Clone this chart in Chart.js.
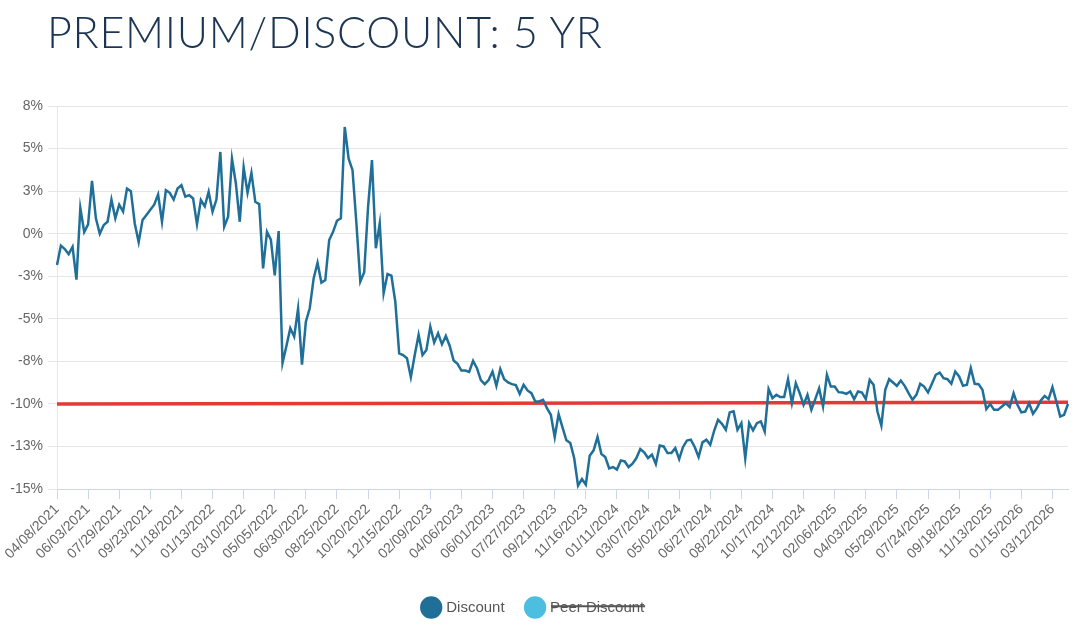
<!DOCTYPE html>
<html>
<head>
<meta charset="utf-8">
<title>Premium/Discount: 5 YR</title>
<script src="https://cdn.jsdelivr.net/npm/chart.js@4.4.1/dist/chart.umd.min.js"></script>
<style>
    html, body { margin: 0; padding: 0; background: #fff; }
    #wrap { position: relative; width: 1085px; height: 627px; overflow: hidden; }
    #chart { position: absolute; left: 0; top: 0; }
    #title {
        position: absolute; left: 47px; top: 10px; margin: 0;
        font-family: Lato, "Open Sans", sans-serif; font-weight: 300;
        font-size: 43px; line-height: 43px; color: #1c3553;
        white-space: nowrap; display: inline-block;
    }
</style>
</head>
<body>
<div id="wrap">
    <canvas id="chart" width="1085" height="627"></canvas>
    <h1 id="title">PREMIUM/DISCOUNT: 5 YR</h1>
</div>
<script>
// Weekly categories start here, one week is missing around new year 2026
const firstWeek = '2021-04-08';
const missingWeeks = ['2026-01-01'];

// Premium/discount in %, one value per week
const discount = [
    -1.84, -0.7, -0.9, -1.2, -0.77, -2.7, 1.5, 0.1, 0.55, 3.1,
    0.9, 0.0, 0.5, 0.7, 2.0, 0.9, 1.7, 1.3, 2.65, 2.5,
    0.6, -0.5, 0.8, 1.1, 1.4, 1.7, 2.3, 0.7, 2.55, 2.4,
    2.0, 2.65, 2.85, 2.17, 2.26, 2.07, 0.56, 1.97, 1.6, 2.46,
    1.29, 2.0, 4.8, 0.41, 1.0, 4.4, 2.95, 0.7, 3.9, 2.4,
    3.57, 1.87, 1.74, -2.04, 0.11, -0.35, -2.45, 0.15, -7.6, -6.6,
    -5.55, -6.05, -4.4, -7.7, -5.17, -4.38, -2.63, -1.71, -2.88, -2.72,
    -0.37, 0.11, 0.76, 0.9, 6.27, 4.41, 3.73, 0.6, -2.82, -2.27,
    1.58, 4.32, -0.86, 0.6, -3.5, -2.37, -2.47, -4.0, -7.03, -7.13,
    -7.32, -8.43, -7.13, -5.95, -7.13, -6.83, -5.46, -6.4, -5.85, -6.5,
    -6.01, -6.6, -7.45, -7.65, -8.04, -8.04, -8.12, -7.47, -7.9, -8.6,
    -8.84, -8.6, -8.1, -8.94, -7.95, -8.55, -8.74, -8.84, -8.9, -9.41,
    -8.88, -9.21, -9.37, -9.86, -9.86, -9.76, -10.25, -10.64, -11.95, -10.6,
    -11.38, -12.14, -12.3, -13.18, -14.8, -14.41, -14.74, -13.04, -12.73, -11.95,
    -12.95, -13.12, -13.79, -13.71, -13.86, -13.32, -13.38, -13.71, -13.51, -13.18,
    -12.65, -12.85, -13.18, -12.98, -13.53, -12.44, -12.5, -12.89, -12.89, -12.6,
    -13.24, -12.53, -12.16, -12.1, -12.53, -13.12, -12.26, -12.1, -12.4, -11.58,
    -10.93, -11.17, -11.52, -10.5, -10.44, -11.52, -11.13, -13.2, -11.13, -11.56,
    -11.13, -11.03, -11.62, -9.13, -9.66, -9.47, -9.6, -9.6, -8.55, -9.95,
    -8.78, -9.37, -10.05, -9.47, -10.35, -9.72, -9.08, -10.15, -8.29, -8.98,
    -8.98, -9.31, -9.33, -9.41, -9.27, -9.72, -9.27, -9.33, -9.72, -8.59,
    -8.88, -10.45, -11.28, -9.17, -8.55, -8.74, -8.94, -8.63, -8.94, -9.37,
    -9.76, -9.47, -8.82, -8.98, -9.33, -8.82, -8.29, -8.16, -8.49, -8.55,
    -8.82, -8.1, -8.39, -8.94, -8.88, -7.9, -8.82, -8.84, -9.17, -10.31,
    -10.01, -10.35, -10.35, -10.15, -9.96, -10.19, -9.37, -10.05, -10.5, -10.45,
    -9.96, -10.58, -10.25, -9.8, -9.53, -9.72, -9.02, -9.86, -10.74, -10.64, -10.0
];

// Peer series is switched off in the legend, so it has no points
const peerDiscount = [];

// Red reference line: value at the first and at the last week
const referenceLine = [-10.0, -9.9];

// Y axis ticks (percent)
const yTickValues = [-15, -12.5, -10, -7.5, -5, -2.5, 0, 2.5, 5, 7.5];

// show every 8th week on the x axis
const labelEvery = 8;

function pad2(n) { return (n < 10 ? '0' : '') + n; }

// build the weekly category labels MM/DD/YYYY
var weekLabels = [];
var d = new Date(firstWeek + 'T00:00:00Z');
while (weekLabels.length < discount.length) {
    var iso = d.toISOString().slice(0, 10);
    if (missingWeeks.indexOf(iso) === -1) {
        weekLabels.push(pad2(d.getUTCMonth() + 1) + '/' + pad2(d.getUTCDate()) + '/' + d.getUTCFullYear());
    }
    d.setUTCDate(d.getUTCDate() + 7);
}

// round half away from zero, so 2.5 -> 3 and -2.5 -> -3
function pctLabel(v) {
    var r = Math.sign(v) * Math.round(Math.abs(v));
    return (r === 0 ? 0 : r) + '%';
}

// stretch title to the width of the original heading
var title = document.getElementById('title');
var chars = title.textContent.length;
var extra = (556 - title.offsetWidth) / chars;
title.style.letterSpacing = extra.toFixed(2) + 'px';

const axisFont = { family: '"Liberation Sans", Arial, sans-serif', size: 14 };

const ctx = document.getElementById('chart').getContext('2d');
new Chart(ctx, {
    type: 'line',
    data: {
        labels: weekLabels,
        datasets: [
            {
                label: 'Discount',
                data: discount,
                borderColor: '#1f6f98',
                backgroundColor: '#1f6f98',
                borderWidth: 2.5,
                pointRadius: 0,
                tension: 0,
                order: 1
            },
            {
                label: 'Peer Discount',
                data: peerDiscount,
                borderColor: '#4cbfe0',
                backgroundColor: '#4cbfe0',
                borderWidth: 2.5,
                pointRadius: 0,
                hidden: true,
                order: 1
            },
            {
                label: 'Reference',
                data: [
                    { x: weekLabels[0], y: referenceLine[0] },
                    { x: weekLabels[weekLabels.length - 1], y: referenceLine[1] }
                ],
                borderColor: '#e53935',
                backgroundColor: '#e53935',
                borderWidth: 3.5,
                pointRadius: 0,
                order: 2
            }
        ]
    },
    options: {
        responsive: false,
        animation: false,
        layout: { padding: { top: 106, right: 17, bottom: 2, left: 0 } },
        plugins: {
            legend: {
                position: 'bottom',
                labels: {
                    usePointStyle: true,
                    pointStyle: 'circle',
                    boxHeight: 14,
                    color: '#555',
                    padding: 23,
                    font: { family: '"Liberation Sans", Arial, sans-serif', size: 15 },
                    filter: function (item) { return item.datasetIndex < 2; }
                },
                onClick: null
            },
            tooltip: { enabled: false }
        },
        scales: {
            x: {
                offset: false,
                grid: {
                    drawOnChartArea: false,
                    drawTicks: true,
                    tickLength: 10,
                    color: '#ccd6eb'
                },
                border: { color: '#ccd6eb', width: 1 },
                ticks: {
                    autoSkip: false,
                    minRotation: 45,
                    maxRotation: 45,
                    padding: 2,
                    color: '#666',
                    font: axisFont,
                    callback: function (val, index) {
                        return index % labelEvery === 0 ? this.getLabelForValue(val) : null;
                    }
                },
                afterFit: function (scale) { scale.height = 88; }
            },
            y: {
                min: yTickValues[0],
                max: yTickValues[yTickValues.length - 1],
                grid: { color: '#e6e6e6', tickLength: 9 },
                border: { color: '#e6e6e6' },
                ticks: {
                    padding: 5,
                    color: '#666',
                    font: axisFont,
                    callback: function (v) { return pctLabel(v); }
                },
                afterBuildTicks: function (scale) {
                    scale.ticks = yTickValues.map(function (v) { return { value: v }; });
                },
                afterFit: function (scale) { scale.width = 57; }
            }
        }
    }
});
</script>
</body>
</html>
